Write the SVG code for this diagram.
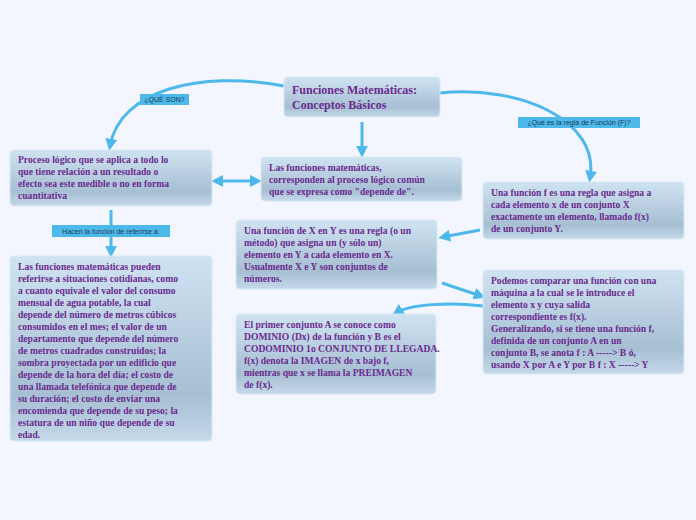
<svg xmlns="http://www.w3.org/2000/svg" width="696" height="520" viewBox="0 0 696 520">
<defs>
<linearGradient id="g" x1="0" y1="0" x2="0" y2="1"><stop offset="0" stop-color="#cfe3f2"/><stop offset="0.75" stop-color="#a7bfd3"/><stop offset="1" stop-color="#c4d9ea"/></linearGradient>
<marker id="ah" viewBox="0 0 10 10" refX="6" refY="5" markerWidth="4" markerHeight="4" orient="auto-start-reverse"><path d="M0,0 L10,5 L0,10 z" fill="#4db9ea"/></marker>
<style>
.n{fill:url(#g);stroke:#d8e8f4;stroke-width:1}
.t{font-family:"Liberation Serif",serif;font-weight:bold;font-size:9.6px;fill:#6b2b8f}
.c{fill:none;stroke:#4db9ea;stroke-width:3;marker-end:url(#ah)}
.lb{fill:#4db9ea}
.lt{font-family:"Liberation Sans",sans-serif;font-size:7px;fill:#1f3a55}
</style>
</defs>
<rect width="696" height="520" fill="#f3f6fe"/>
<g id="connectors">
<path class="c" d="M284,86 C200,70 120,90 110,146"/>
<path class="c" d="M440,93 C520,85 600,120 590,178"/>
<path class="c" d="M362,122 L362,153"/>
<path class="c" d="M216,181 L257,181" style="marker-start:url(#ah)"/>
<path class="c" d="M111,210 L111,253"/>
<path class="c" d="M480,230 L443,237"/>
<path class="c" d="M442,283 L481,296"/>
<path class="c" d="M483,306 C450,302 410,304 396,313"/>
<rect class="lb" x="140" y="94" width="49" height="11"/><text class="lt" x="164.5" y="102" text-anchor="middle">¿QUÉ SON?</text>
<rect class="lb" x="518" y="117" width="122" height="11"/><text class="lt" x="579" y="125" text-anchor="middle">¿Qué es la regla de Función (F)?</text>
<rect class="lb" x="52" y="225" width="118" height="12"/><text class="lt" x="111" y="234" text-anchor="middle">Hacen la función de referirse a:</text>
</g>
<g id="root"><rect class="n" x="284" y="77" width="156" height="40" rx="4"/>
<text class="t" style="font-size:12px" x="292" y="94">Funciones Matemáticas:</text><text class="t" style="font-size:12px" x="292" y="109">Conceptos Básicos</text></g>
<g id="nA"><rect class="n" x="10" y="150" width="202" height="56" rx="4"/>
<text class="t" x="18" y="163">Proceso lógico que se aplica a todo lo</text><text class="t" x="18" y="175">que tiene relación a un resultado o</text><text class="t" x="18" y="187">efecto sea este medible o no en forma</text><text class="t" x="18" y="199">cuantitativa</text></g>
<g id="nB"><rect class="n" x="261" y="157" width="201" height="44" rx="4"/>
<text class="t" x="269" y="171">Las funciones matemáticas,</text><text class="t" x="269" y="183">corresponden al proceso lógico común</text><text class="t" x="269" y="195">que se expresa como "depende de".</text></g>
<g id="nC"><rect class="n" x="483" y="182" width="201" height="57" rx="4"/>
<text class="t" x="491" y="196">Una función f es una regla que asigna a</text><text class="t" x="491" y="208">cada elemento x de un conjunto X</text><text class="t" x="491" y="220">exactamente un elemento, llamado f(x)</text><text class="t" x="491" y="232">de un conjunto Y.</text></g>
<g id="nD"><rect class="n" x="236" y="220" width="201" height="69" rx="4"/>
<text class="t" x="244" y="234">Una función de X en Y es una regla (o un</text><text class="t" x="244" y="246">método) que asigna un (y sólo un)</text><text class="t" x="244" y="258">elemento en Y a cada elemento en X.</text><text class="t" x="244" y="270"> Usualmente X e Y son conjuntos de</text><text class="t" x="244" y="282">números.</text></g>
<g id="nE"><rect class="n" x="483" y="270" width="201" height="104" rx="4"/>
<text class="t" x="491" y="284">Podemos comparar una función con una</text><text class="t" x="491" y="296">máquina a la cual se le introduce el</text><text class="t" x="491" y="308">elemento x y cuya salida</text><text class="t" x="491" y="320">correspondiente es f(x).</text><text class="t" x="491" y="332">Generalizando, si se tiene una función f,</text><text class="t" x="491" y="344">definida de un conjunto A en un</text><text class="t" x="491" y="356">conjunto B, se anota    f : A -----&gt;  B  ó,</text><text class="t" x="491" y="368">usando X por A e Y por B     f : X -----&gt;  Y</text></g>
<g id="nF"><rect class="n" x="236" y="314" width="200" height="80" rx="4"/>
<text class="t" x="244" y="328">El primer conjunto A se conoce como</text><text class="t" x="244" y="340">DOMINIO (Dx) de la función y B es el</text><text class="t" x="244" y="352">CODOMINIO 1o CONJUNTO DE LLEGADA.</text><text class="t" x="244" y="364">f(x) denota la IMAGEN de x bajo f,</text><text class="t" x="244" y="376">mientras que x se llama la PREIMAGEN</text><text class="t" x="244" y="388">de f(x).</text></g>
<g id="nG"><rect class="n" x="10" y="256" width="202" height="185" rx="4"/>
<text class="t" x="18" y="270">Las funciones matemáticas pueden</text><text class="t" x="18" y="282">referirse a situaciones cotidianas, como</text><text class="t" x="18" y="294">a cuanto equivale el valor del consumo</text><text class="t" x="18" y="306">mensual de agua potable, la cual</text><text class="t" x="18" y="318">depende del número de metros cúbicos</text><text class="t" x="18" y="330">consumidos en el mes; el valor de un</text><text class="t" x="18" y="342">departamento que depende del número</text><text class="t" x="18" y="354">de metros cuadrados construidos; la</text><text class="t" x="18" y="366">sombra proyectada por un edificio que</text><text class="t" x="18" y="378">depende de la hora del día; el costo de</text><text class="t" x="18" y="390">una llamada telefónica que depende de</text><text class="t" x="18" y="402">su duración; el costo de enviar una</text><text class="t" x="18" y="414">encomienda que depende de su peso;  la</text><text class="t" x="18" y="426">estatura de un niño que depende de su</text><text class="t" x="18" y="438">edad.</text></g>
</svg>
